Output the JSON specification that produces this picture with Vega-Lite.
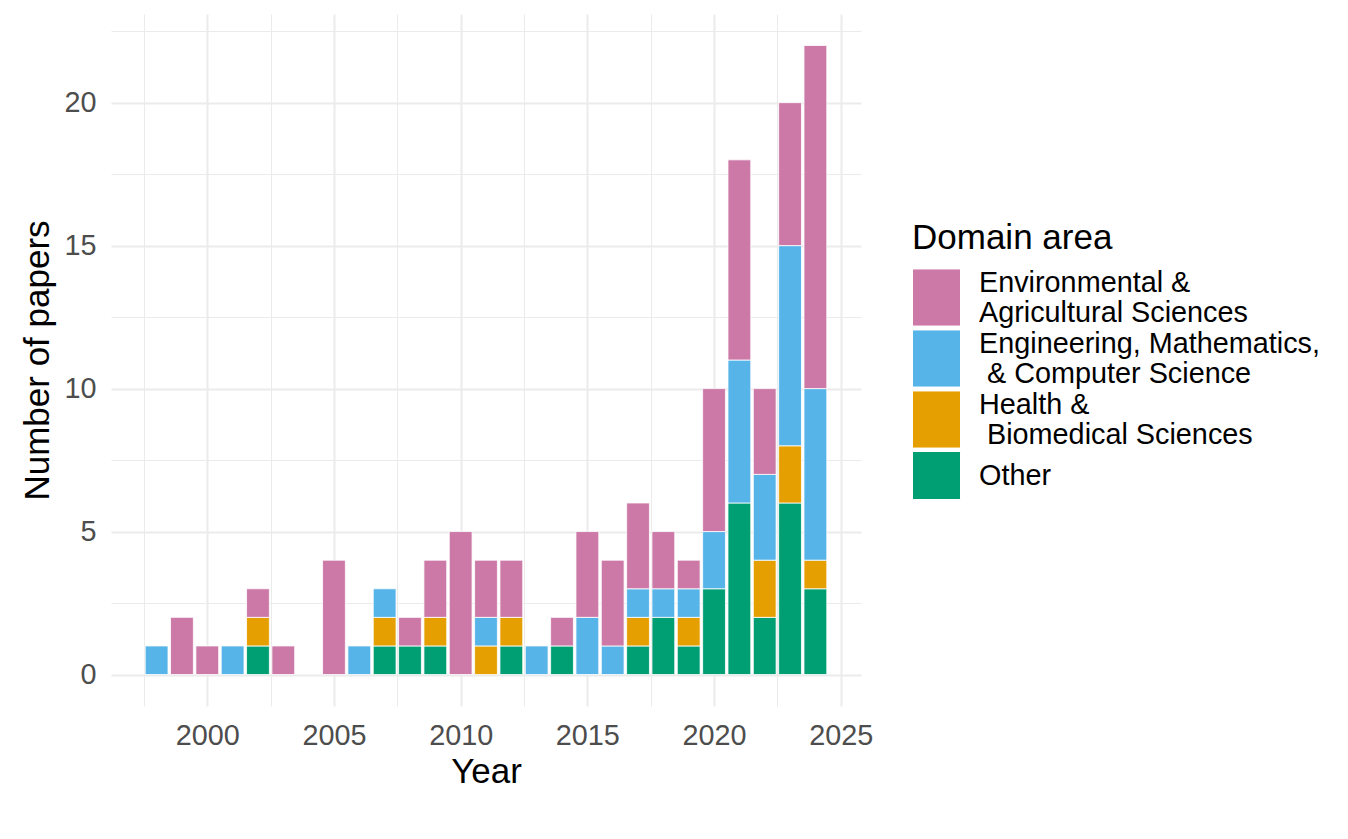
{
  "$schema": "https://vega.github.io/schema/vega-lite/v6.json",
  "width": 750,
  "height": 692,
  "autosize": {"type": "none"},
  "padding": {"left": 111, "top": 14, "right": 487, "bottom": 133},
  "background": "white",
  "config": {
    "view": {"stroke": null},
    "font": "Liberation Sans",
    "axis": {
      "domain": false,
      "ticks": false,
      "labelFont": "Liberation Sans",
      "labelFontSize": 28.8,
      "labelColor": "#4D4D4D",
      "titleFont": "Liberation Sans",
      "titleFontSize": 35,
      "titleFontWeight": "normal",
      "titleColor": "black",
      "gridColor": "#EBEBEB"
    },
    "legend": {
      "titleFont": "Liberation Sans",
      "titleFontSize": 35,
      "titleFontWeight": "normal",
      "titleColor": "black",
      "titleLimit": 600,
      "labelFont": "Liberation Sans",
      "labelFontSize": 28.8,
      "labelColor": "black",
      "labelLimit": 500
    }
  },
  "data": {
    "values": [
      {"year": 1998, "domain": "Engineering, Mathematics, & Computer Science", "n": 1},
      {"year": 1999, "domain": "Environmental & Agricultural Sciences", "n": 2},
      {"year": 2000, "domain": "Environmental & Agricultural Sciences", "n": 1},
      {"year": 2001, "domain": "Engineering, Mathematics, & Computer Science", "n": 1},
      {"year": 2002, "domain": "Other", "n": 1},
      {"year": 2002, "domain": "Health & Biomedical Sciences", "n": 1},
      {"year": 2002, "domain": "Environmental & Agricultural Sciences", "n": 1},
      {"year": 2003, "domain": "Environmental & Agricultural Sciences", "n": 1},
      {"year": 2005, "domain": "Environmental & Agricultural Sciences", "n": 4},
      {"year": 2006, "domain": "Engineering, Mathematics, & Computer Science", "n": 1},
      {"year": 2007, "domain": "Other", "n": 1},
      {"year": 2007, "domain": "Health & Biomedical Sciences", "n": 1},
      {"year": 2007, "domain": "Engineering, Mathematics, & Computer Science", "n": 1},
      {"year": 2008, "domain": "Other", "n": 1},
      {"year": 2008, "domain": "Environmental & Agricultural Sciences", "n": 1},
      {"year": 2009, "domain": "Other", "n": 1},
      {"year": 2009, "domain": "Health & Biomedical Sciences", "n": 1},
      {"year": 2009, "domain": "Environmental & Agricultural Sciences", "n": 2},
      {"year": 2010, "domain": "Environmental & Agricultural Sciences", "n": 5},
      {"year": 2011, "domain": "Health & Biomedical Sciences", "n": 1},
      {"year": 2011, "domain": "Engineering, Mathematics, & Computer Science", "n": 1},
      {"year": 2011, "domain": "Environmental & Agricultural Sciences", "n": 2},
      {"year": 2012, "domain": "Other", "n": 1},
      {"year": 2012, "domain": "Health & Biomedical Sciences", "n": 1},
      {"year": 2012, "domain": "Environmental & Agricultural Sciences", "n": 2},
      {"year": 2013, "domain": "Engineering, Mathematics, & Computer Science", "n": 1},
      {"year": 2014, "domain": "Other", "n": 1},
      {"year": 2014, "domain": "Environmental & Agricultural Sciences", "n": 1},
      {"year": 2015, "domain": "Engineering, Mathematics, & Computer Science", "n": 2},
      {"year": 2015, "domain": "Environmental & Agricultural Sciences", "n": 3},
      {"year": 2016, "domain": "Engineering, Mathematics, & Computer Science", "n": 1},
      {"year": 2016, "domain": "Environmental & Agricultural Sciences", "n": 3},
      {"year": 2017, "domain": "Other", "n": 1},
      {"year": 2017, "domain": "Health & Biomedical Sciences", "n": 1},
      {"year": 2017, "domain": "Engineering, Mathematics, & Computer Science", "n": 1},
      {"year": 2017, "domain": "Environmental & Agricultural Sciences", "n": 3},
      {"year": 2018, "domain": "Other", "n": 2},
      {"year": 2018, "domain": "Engineering, Mathematics, & Computer Science", "n": 1},
      {"year": 2018, "domain": "Environmental & Agricultural Sciences", "n": 2},
      {"year": 2019, "domain": "Other", "n": 1},
      {"year": 2019, "domain": "Health & Biomedical Sciences", "n": 1},
      {"year": 2019, "domain": "Engineering, Mathematics, & Computer Science", "n": 1},
      {"year": 2019, "domain": "Environmental & Agricultural Sciences", "n": 1},
      {"year": 2020, "domain": "Other", "n": 3},
      {"year": 2020, "domain": "Engineering, Mathematics, & Computer Science", "n": 2},
      {"year": 2020, "domain": "Environmental & Agricultural Sciences", "n": 5},
      {"year": 2021, "domain": "Other", "n": 6},
      {"year": 2021, "domain": "Engineering, Mathematics, & Computer Science", "n": 5},
      {"year": 2021, "domain": "Environmental & Agricultural Sciences", "n": 7},
      {"year": 2022, "domain": "Other", "n": 2},
      {"year": 2022, "domain": "Health & Biomedical Sciences", "n": 2},
      {"year": 2022, "domain": "Engineering, Mathematics, & Computer Science", "n": 3},
      {"year": 2022, "domain": "Environmental & Agricultural Sciences", "n": 3},
      {"year": 2023, "domain": "Other", "n": 6},
      {"year": 2023, "domain": "Health & Biomedical Sciences", "n": 2},
      {"year": 2023, "domain": "Engineering, Mathematics, & Computer Science", "n": 7},
      {"year": 2023, "domain": "Environmental & Agricultural Sciences", "n": 5},
      {"year": 2024, "domain": "Other", "n": 3},
      {"year": 2024, "domain": "Health & Biomedical Sciences", "n": 1},
      {"year": 2024, "domain": "Engineering, Mathematics, & Computer Science", "n": 6},
      {"year": 2024, "domain": "Environmental & Agricultural Sciences", "n": 12}
    ]
  },
  "transform": [
    {"calculate": "indexof(['Other', 'Health & Biomedical Sciences', 'Engineering, Mathematics, & Computer Science', 'Environmental & Agricultural Sciences'], datum.domain)", "as": "stack_rank"}
  ],
  "mark": {"type": "bar", "size": 22.8, "stroke": "white", "strokeWidth": 0.8},
  "encoding": {
    "x": {
      "field": "year",
      "type": "quantitative",
      "title": "Year",
      "scale": {"domain": [1996.2, 2025.8], "nice": false, "zero": false, "padding": 0},
      "axis": {
        "values": [1997.5, 2000, 2002.5, 2005, 2007.5, 2010, 2012.5, 2015, 2017.5, 2020, 2022.5, 2025],
        "format": "d",
        "labelExpr": "datum.value % 5 === 0 ? datum.label : ''",
        "gridWidth": {"condition": {"test": "datum.value % 5 === 0", "value": 2}, "value": 1},
        "labelPadding": 15,
        "titlePadding": 5
      }
    },
    "y": {
      "field": "n",
      "type": "quantitative",
      "stack": "zero",
      "title": "Number of papers",
      "scale": {"domain": [-1.1, 23.1], "nice": false, "zero": false},
      "axis": {
        "values": [0, 2.5, 5, 7.5, 10, 12.5, 15, 17.5, 20, 22.5],
        "labelExpr": "datum.value % 5 === 0 ? datum.label : ''",
        "gridWidth": {"condition": {"test": "datum.value % 5 === 0", "value": 2}, "value": 1},
        "labelPadding": 15,
        "titlePadding": 8
      }
    },
    "order": {"field": "stack_rank", "type": "quantitative", "sort": "ascending"},
    "color": {
      "field": "domain",
      "type": "nominal",
      "title": "Domain area",
      "scale": {
        "domain": ["Environmental & Agricultural Sciences", "Engineering, Mathematics, & Computer Science", "Health & Biomedical Sciences", "Other"],
        "range": ["#CC79A7", "#56B4E9", "#E69F00", "#009E73"]
      },
      "legend": {
        "orient": "none",
        "legendX": 801,
        "legendY": 207,
        "symbolType": "M-1,-1.19H1V1.19H-1Z",
        "symbolSize": 2304,
        "symbolStrokeColor": "white",
        "symbolStrokeWidth": 1,
        "symbolOpacity": 1,
        "labelOffset": 18,
        "rowPadding": -2,
        "titlePadding": 17,
        "labelExpr": "datum.label === 'Environmental & Agricultural Sciences' ? ['Environmental &', 'Agricultural Sciences'] : datum.label === 'Engineering, Mathematics, & Computer Science' ? ['Engineering, Mathematics,', '\u200b\u00a0& Computer Science'] : datum.label === 'Health & Biomedical Sciences' ? ['Health &', '\u200b\u00a0Biomedical Sciences'] : datum.label",
        "encode": {
          "labels": {
            "update": {
              "dy": {"signal": "datum.value === 'Other' ? 0 : -15"}
            }
          },
          "symbols": {
            "update": {
              "shape": {"signal": "datum.value === 'Other' ? 'M-1,-1H1V1H-1Z' : 'M-1,-1.19H1V1.19H-1Z'"}
            }
          }
        }
      }
    }
  }
}
